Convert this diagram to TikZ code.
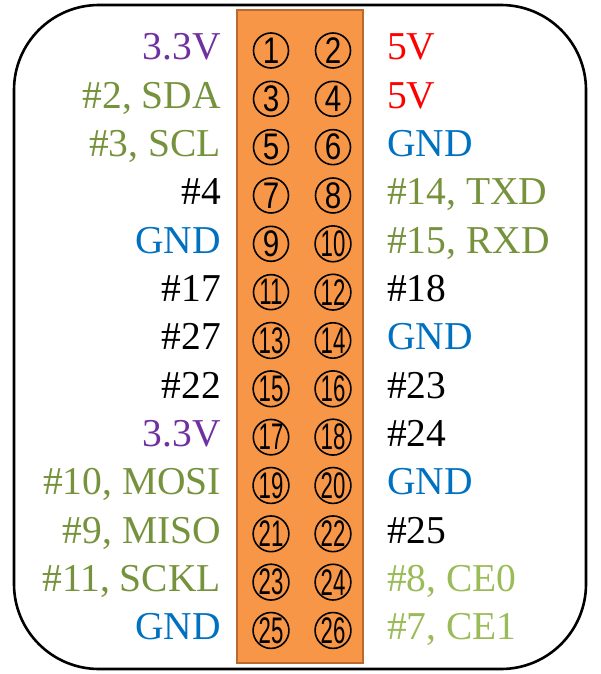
\documentclass[tikz,border=0pt]{standalone}
\usepackage{fontspec}
\setmainfont{Liberation Serif}
\newfontfamily\pinfont{Liberation Sans}
\definecolor{purp}{HTML}{7030A0}
\definecolor{redv}{HTML}{FF0000}
\definecolor{olive}{HTML}{76923C}
\definecolor{lgreen}{HTML}{9BBB59}
\definecolor{gndblue}{HTML}{0070C0}
\definecolor{orfill}{HTML}{F79646}
\definecolor{orbrd}{HTML}{B86A30}
\newcommand\mypinlbl[1]{\ifnum#1<10 \scalebox{0.8}[1]{#1}\else\scalebox{0.6}[1]{#1}\fi}
\begin{document}
\begin{tikzpicture}[x=1pt,y=-1pt,
  lbl/.style={inner sep=0pt, font=\fontsize{39.5}{39.5}\selectfont},
  lft/.style={lbl, anchor=base east},
  rgt/.style={lbl, anchor=base west},
  pinc/.style={circle, draw=black, line width=1.6pt, minimum size=35pt, inner sep=0pt, font=\pinfont\fontsize{37}{37}\selectfont},
  outer/.style={draw=black, line width=2.6pt, rounded corners=85pt},
  header/.style={draw=orbrd, fill=orfill, line width=1.5pt}]
\useasboundingbox (0,0) rectangle (600,674);
\draw[outer] (14,5) rectangle (586,669);
\draw[header] (237,10) rectangle (363,663);
\foreach \i/\lt/\lc/\rt/\rc in {
  0/{3.3V}/purp/{5V}/redv,
  1/{\#2, SDA}/olive/{5V}/redv,
  2/{\#3, SCL}/olive/{GND}/gndblue,
  3/{\#4}/black/{\#14, TXD}/olive,
  4/{GND}/gndblue/{\#15, RXD}/olive,
  5/{\#17}/black/{\#18}/black,
  6/{\#27}/black/{GND}/gndblue,
  7/{\#22}/black/{\#23}/black,
  8/{3.3V}/purp/{\#24}/black,
  9/{\#10, MOSI}/olive/{GND}/gndblue,
  10/{\#9, MISO}/olive/{\#25}/black,
  11/{\#11, SCKL}/olive/{\#8, CE0}/lgreen,
  12/{GND}/gndblue/{\#7, CE1}/lgreen}{
  \pgfmathsetmacro\yc{50.5+48.33*\i}
  \pgfmathtruncatemacro\po{2*\i+1}
  \pgfmathtruncatemacro\pe{2*\i+2}
  \node[pinc] (P\po) at (271,\yc) {\mypinlbl{\po}};
  \node[pinc] (P\pe) at (333,\yc) {\mypinlbl{\pe}};
  \node[lft, text=\lc] (L\i) at (221,\yc+9.5) {\lt};
  \node[rgt, text=\rc] (R\i) at (387,\yc+9.5) {\rt};
}
\end{tikzpicture}
\end{document}
